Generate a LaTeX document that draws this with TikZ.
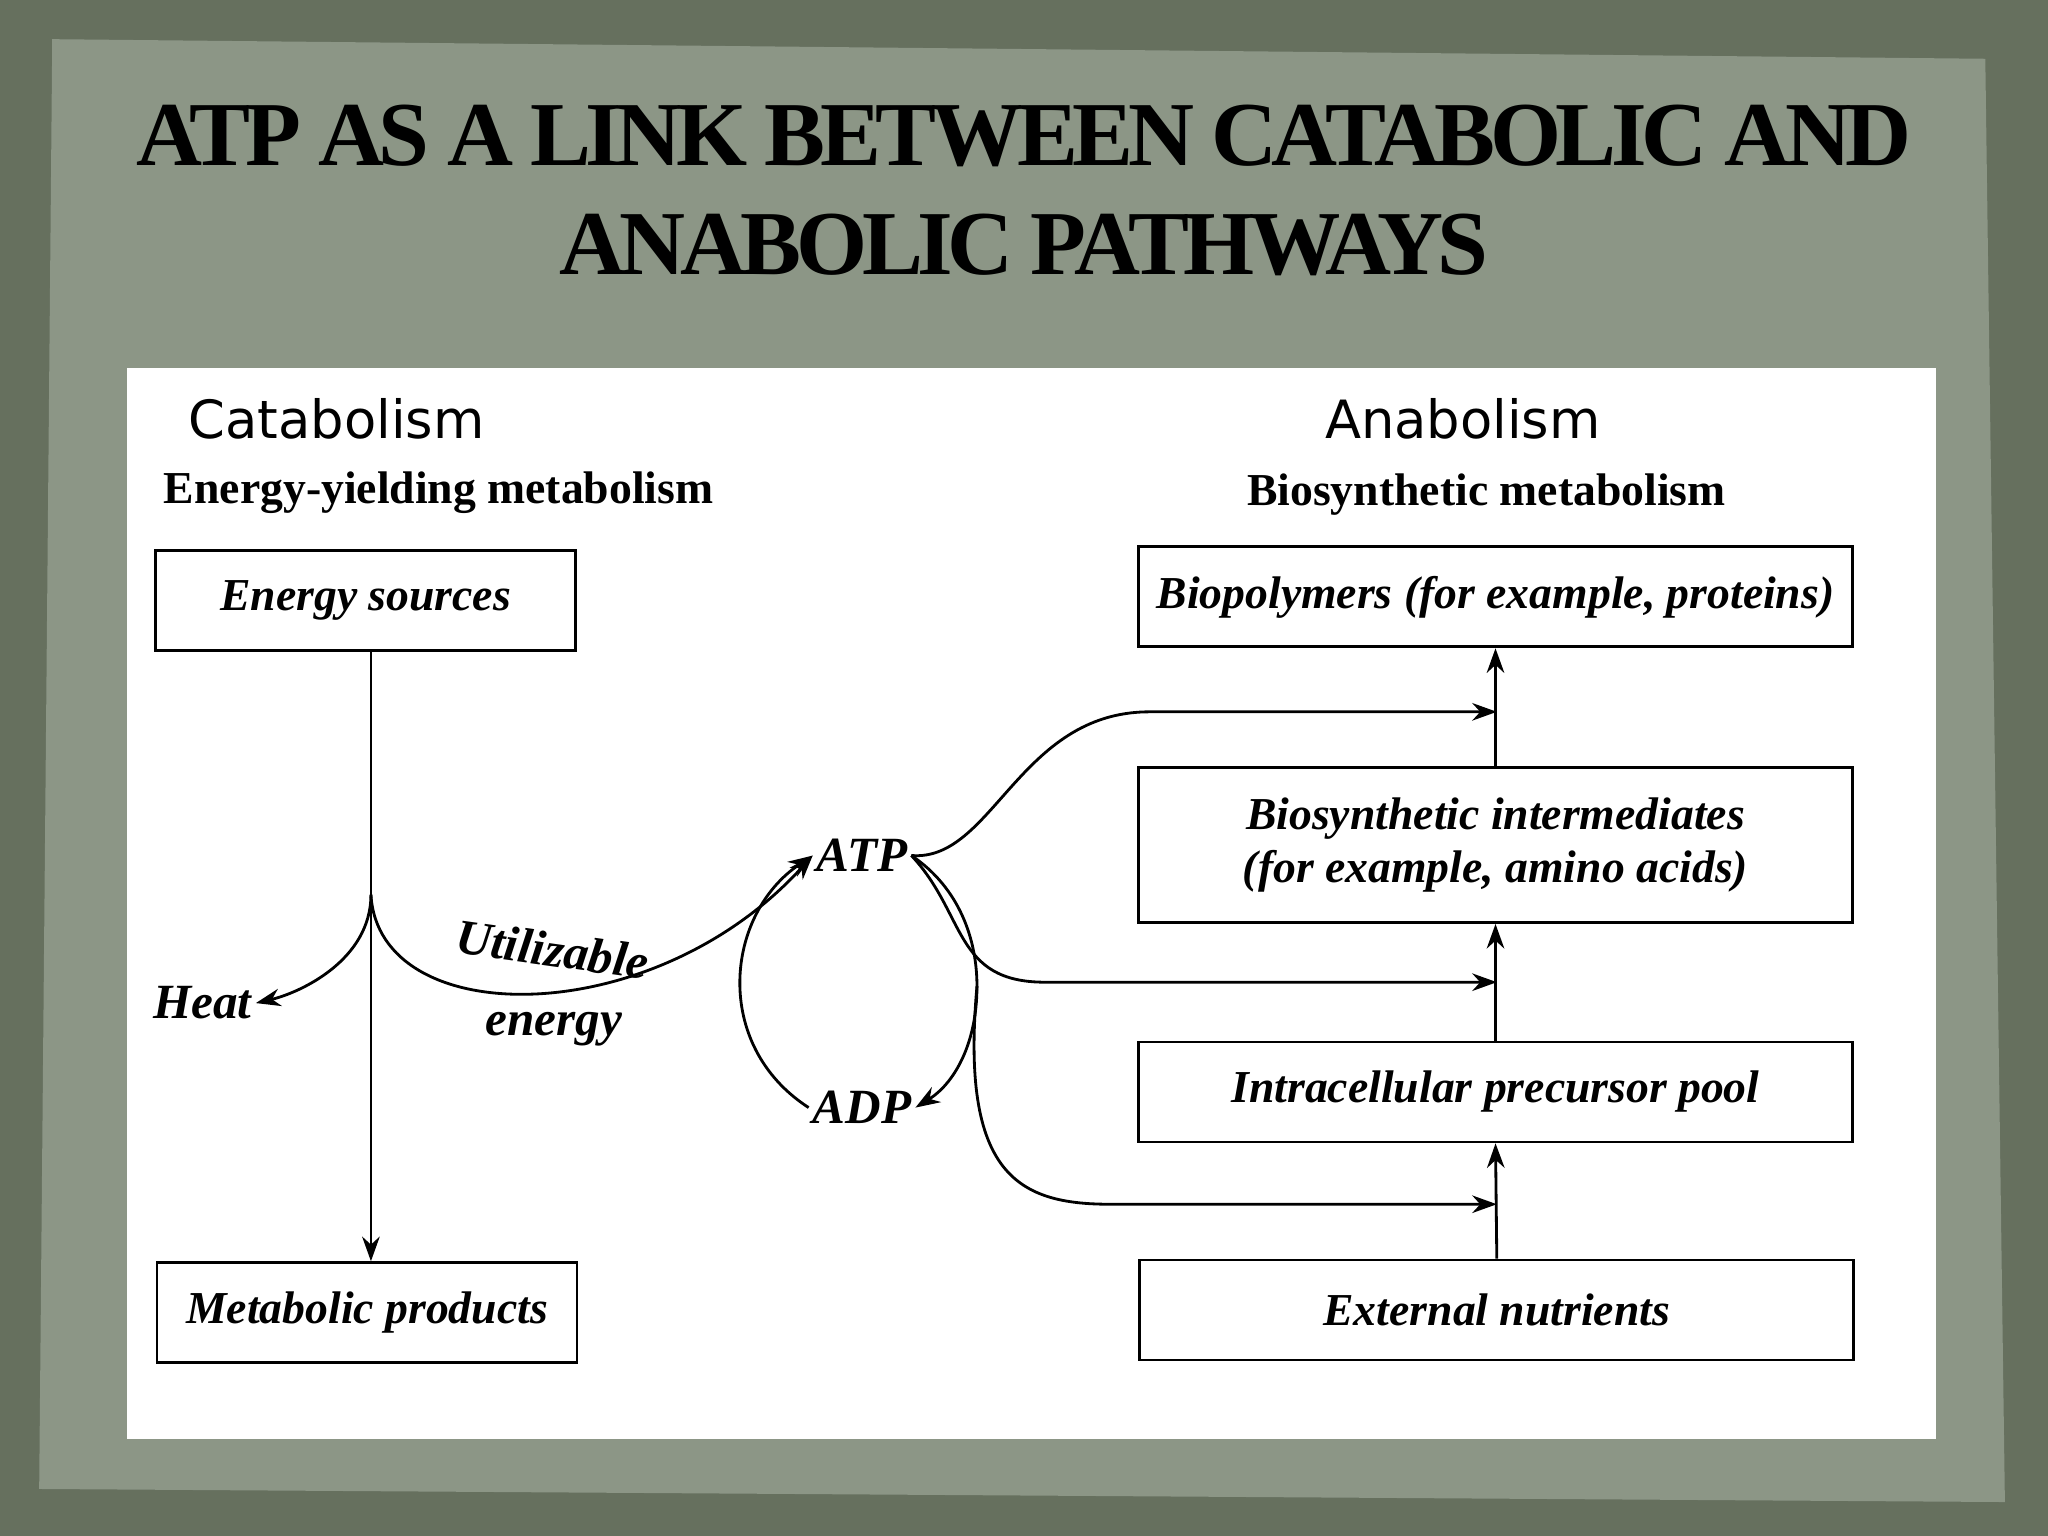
\documentclass[tikz,border=0pt]{standalone}
\usepackage{fontspec}
\setmainfont{Liberation Serif}
\newfontfamily\sansf{DejaVu Sans}
\usetikzlibrary{positioning, arrows.meta}
\definecolor{frameC}{HTML}{66705E}
\definecolor{paperC}{HTML}{8C9686}
\tikzset{
  box/.style={draw, thick, minimum height=1cm, font=\fontsize{13}{15}\selectfont\bfseries\itshape},
  flow/.style={thick, -{Stealth[length=7pt,width=5pt]}},
  head/.style={font=\sansf\fontsize{15}{17}\selectfont},
  sub/.style={font=\fontsize{13}{15}\selectfont\bfseries},
  lbl/.style={font=\fontsize{14}{16}\selectfont\bfseries\itshape, inner sep=1pt}
}
\begin{document}
\begin{tikzpicture}[x=0.013061cm, y=-0.013061cm]
  \useasboundingbox (0,0) rectangle (1568,1176);
  \fill[frameC] (0,0) rectangle (1568,1176);
  \fill[paperC] (40,30) -- (1520,45) -- (1535,1150) -- (30,1140) -- cycle;
  \fill[white] (97,282) rectangle (1482,1102);

  % title
  \node[font=\fontsize{26}{31}\selectfont\bfseries, align=center] (title) at (784,146)
    {\addfontfeatures{LetterSpace=-6}ATP AS A LINK BETWEEN CATABOLIC AND\\
     \addfontfeatures{LetterSpace=-6}ANABOLIC PATHWAYS};

  % headings
  \node[head, anchor=west] (cat) at (135,321) {Catabolism};
  \node[sub, anchor=west] (catsub) at (116,377) {Energy-yielding metabolism};
  \node[head] (ana) at (1120,321) {Anabolism};
  \node[sub] (anasub) at (1138,379) {Biosynthetic metabolism};

  % boxes
  \node[box, minimum width=4.2cm] (src) at (280,460) {Energy sources};
  \node[box, minimum width=4.2cm] (prod) at (281,1005) {Metabolic products};
  \node[box, minimum width=7.14cm] (poly) at (1145,457) {Biopolymers (for example, proteins)};
  \node[box, minimum width=7.14cm, minimum height=1.55cm, align=center] (inter) at (1145,647)
    {Biosynthetic intermediates\\(for example, amino acids)};
  \node[box, minimum width=7.14cm] (pool) at (1145,836) {Intracellular precursor pool};
  \node[box, minimum width=7.14cm] (ext) at (1146,1003) {External nutrients};

  \node[lbl] (heat) at (155,768) {Heat};
  \node[lbl] (atp) at (660,655) {ATP};
  \node[lbl] (adp) at (660,848) {ADP};
  \node[lbl, rotate=-8] (util) at (423,727) {Utilizable};
  \node[lbl] (nrg) at (424,788) {energy};

  \coordinate (br) at (284,685);
  \coordinate (mid) at (748,755);
  \coordinate (j1) at (1146,545);
  \coordinate (j2) at (1146,752);
  \coordinate (j3) at (1146,922);

  % catabolism
  \draw[flow] (src.south -| br) -- (prod.north -| br);
  \draw[flow] (br) .. controls (284,735) and (230,760) .. (heat.east);
  \draw[flow] (br) .. controls (290,790) and (500,790) .. (atp.west);

  % ATP/ADP cycle
  \draw[flow] (adp.west) .. controls (545,800) and (555,700) .. (atp.west);
  \draw[thick] (atp.east) .. controls (735,680) and (748,720) .. (mid);
  \draw[flow] (mid) .. controls (748,800) and (730,830) .. (adp.east);

  % anabolism
  \draw[flow] (atp.east) .. controls (760,660) and (780,545) .. (880,545) -- (j1);
  \draw[flow] (atp.east) .. controls (740,700) and (730,752) .. (800,752) -- (j2);
  \draw[flow] (mid) .. controls (735,900) and (780,922) .. (850,922) -- (j3);
  \draw[flow] (ext.north) -- (pool.south);
  \draw[flow] (pool.north) -- (inter.south);
  \draw[flow] (inter.north) -- (poly.south);
\end{tikzpicture}
\end{document}
